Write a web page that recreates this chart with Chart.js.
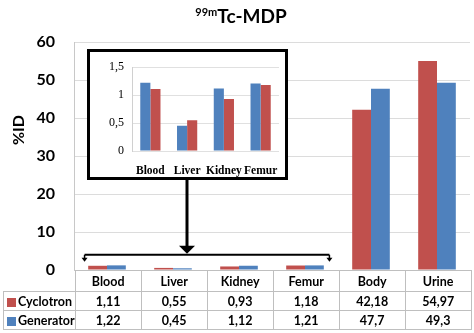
<!DOCTYPE html>
<html>
<head>
<meta charset="utf-8">
<script src="https://cdn.jsdelivr.net/npm/chart.js"></script>
<style>
  html, body { margin: 0; padding: 0; background: #fff; }
  #wrap { position: relative; width: 474px; height: 333px; overflow: hidden; font-family: Lato, 'Open Sans', sans-serif; }
  #main { position: absolute; left: 0; top: 0; }
  #title { position: absolute; left: 0; top: 0; width: 474px; text-align: center; font-weight: bold; font-size: 19px; line-height: 24px; padding-left: 8px; box-sizing: border-box; }
  #title sup { font-size: 11px; vertical-align: 7px; }
  #ylabel { position: absolute; left: 3px; top: 120px; width: 30px; font-weight: bold; font-size: 16px; transform: rotate(-90deg); transform-origin: 15px 10px; text-align: center; }
  #inset { position: absolute; left: 87px; top: 49px; width: 201px; height: 131px; border: 3px solid #000; box-sizing: border-box; background: #fff; }
  #inset canvas { position: absolute; left: 0; top: 0; }
  #tbl { position: absolute; left: 3px; top: 270px; border-collapse: collapse; table-layout: fixed; font-weight: bold; font-size: 12.5px; }
  #tbl td { border: 1px solid #bfbfbf; text-align: center; padding: 0; height: 18px; white-space: nowrap; }
  #tbl tr.head td { height: 20px; }
  #tbl td.blank { border-top: none; border-left: none; }
  #tbl td.leg { text-align: left; padding-left: 3px; }
  .sw { display: inline-block; width: 9px; height: 9px; margin-right: 2px; vertical-align: -1px; }
</style>
</head>
<body>
<div id="wrap">
  <canvas id="main" width="474" height="333"></canvas>
  <div id="title"><sup>99m</sup>Tc-MDP</div>
  <div id="ylabel">%ID</div>
  <div id="inset"><canvas id="insetChart" width="195" height="125"></canvas></div>
  <table id="tbl"></table>
</div>
<script>
const categories = ['Blood', 'Liver', 'Kidney', 'Femur', 'Body', 'Urine'];
const cyclotron = [1.11, 0.55, 0.93, 1.18, 42.18, 54.97];
const generator = [1.22, 0.45, 1.12, 1.21, 47.7, 49.3];
const insetCategories = categories.slice(0, 4);
const yTicks = [0, 10, 20, 30, 40, 50, 60];
const insetTicks = [0, 0.5, 1, 1.5];

const RED = '#c0504d';
const BLUE = '#4f81bd';
const comma = (v) => String(v).replace('.', ',');

// arrow + bracket pointing from the zoom box down to the small bars
const bracketPlugin = {
  id: 'bracket',
  afterDraw(chart) {
    const ctx = chart.ctx;
    const x = chart.scales.x;
    const y = chart.scales.y;
    const step = x.getPixelForValue(1) - x.getPixelForValue(0);
    const left = x.getPixelForValue(0) - step * 0.34;
    const right = x.getPixelForValue(3) + step * 0.37;
    const lineY = y.getPixelForValue(4);
    const midX = 187;
    ctx.save();
    ctx.strokeStyle = '#000';
    ctx.fillStyle = '#000';
    ctx.lineWidth = 3;
    ctx.beginPath();
    ctx.moveTo(midX, 178);
    ctx.lineTo(midX, lineY - 8);
    ctx.stroke();
    ctx.beginPath();
    ctx.moveTo(midX - 8, lineY - 9);
    ctx.lineTo(midX + 8, lineY - 9);
    ctx.lineTo(midX, lineY - 1);
    ctx.closePath();
    ctx.fill();
    ctx.lineWidth = 2;
    ctx.beginPath();
    ctx.moveTo(left, lineY);
    ctx.lineTo(right, lineY);
    ctx.stroke();
    [left, right].forEach((px) => {
      ctx.beginPath();
      ctx.moveTo(px - 3, lineY + 3);
      ctx.lineTo(px + 3, lineY + 3);
      ctx.lineTo(px, lineY + 7);
      ctx.closePath();
      ctx.fill();
      ctx.lineWidth = 1.5;
      ctx.beginPath();
      ctx.moveTo(px, lineY);
      ctx.lineTo(px, lineY + 4);
      ctx.stroke();
    });
    ctx.restore();
  }
};

new Chart(document.getElementById('main'), {
  type: 'bar',
  data: {
    labels: categories,
    datasets: [
      { label: 'Cyclotron', data: cyclotron, backgroundColor: RED },
      { label: 'Generator', data: generator, backgroundColor: BLUE }
    ]
  },
  options: {
    responsive: false,
    animation: false,
    devicePixelRatio: 1,
    layout: { padding: { left: 0, top: 42, right: 4, bottom: 63 } },
    datasets: { bar: { categoryPercentage: 0.57, barPercentage: 1 } },
    plugins: { legend: { display: false }, tooltip: { enabled: false } },
    scales: {
      x: { display: false },
      y: {
        min: 0,
        max: 60,
        afterBuildTicks: (s) => { s.ticks = yTicks.map((v) => ({ value: v })); },
        afterFit: (s) => { s.width = 74; },
        ticks: { color: '#000', padding: 19, font: { family: 'Lato', weight: 'bold', size: 16 } },
        grid: { color: '#dcdcdc', drawTicks: false },
        border: { color: '#c8c8c8' }
      }
    }
  },
  plugins: [bracketPlugin]
});

new Chart(document.getElementById('insetChart'), {
  type: 'bar',
  data: {
    labels: insetCategories,
    datasets: [
      { label: 'Generator', data: generator.slice(0, 4), backgroundColor: BLUE },
      { label: 'Cyclotron', data: cyclotron.slice(0, 4), backgroundColor: RED }
    ]
  },
  options: {
    responsive: false,
    animation: false,
    devicePixelRatio: 1,
    layout: { padding: { left: 0, top: 11, right: 6, bottom: 0 } },
    datasets: { bar: { categoryPercentage: 0.55, barPercentage: 1 } },
    plugins: { legend: { display: false }, tooltip: { enabled: false } },
    scales: {
      x: {
        afterFit: (s) => { s.height = 26; },
        grid: { display: false },
        border: { display: false },
        ticks: {
          color: '#000', padding: 5, autoSkip: false, maxRotation: 0, minRotation: 0,
          font: { family: 'Liberation Serif', weight: 'bold', size: 11.5 }
        }
      },
      y: {
        min: 0,
        max: 1.5,
        afterBuildTicks: (s) => { s.ticks = insetTicks.map((v) => ({ value: v })); },
        afterFit: (s) => { s.width = 42; },
        ticks: { color: '#000', padding: 8, callback: (v) => comma(v), font: { family: 'Liberation Serif', size: 12 } },
        grid: { color: '#e0e0e0', drawTicks: false },
        border: { color: '#d0d0d0' }
      }
    }
  }
});

// data table under the main chart
const tbl = document.getElementById('tbl');
let html = '<colgroup><col style="width:71px">';
categories.forEach(() => { html += '<col style="width:66px">'; });
html += '</colgroup>';
html += '<tr class="head"><td class="blank"></td>' + categories.map((c) => `<td>${c}</td>`).join('') + '</tr>';
html += `<tr><td class="leg"><span class="sw" style="background:${RED}"></span>Cyclotron</td>` +
  cyclotron.map((v) => `<td>${comma(v)}</td>`).join('') + '</tr>';
html += `<tr><td class="leg"><span class="sw" style="background:${BLUE}"></span>Generator</td>` +
  generator.map((v) => `<td>${comma(v)}</td>`).join('') + '</tr>';
tbl.innerHTML = html;
</script>
</body>
</html>
